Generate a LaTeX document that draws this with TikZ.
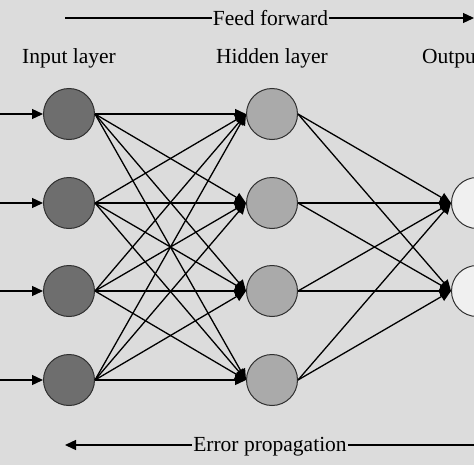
\documentclass[tikz,border=0pt]{standalone}
\usepackage{fontspec}
\setmainfont{Liberation Serif}
\usetikzlibrary{arrows.meta}
\definecolor{bg}{HTML}{DCDCDC}
\definecolor{inpfill}{HTML}{6E6E6E}
\definecolor{hidfill}{HTML}{AAAAAA}
\definecolor{outfill}{HTML}{F0F0F0}
\definecolor{rim}{HTML}{303030}
\begin{document}
\begin{tikzpicture}[x=1pt,y=-1pt,
  neuron/.style={circle, draw=rim, line width=1pt, minimum size=51pt, inner sep=0pt},
  inp/.style={neuron, fill=inpfill},
  hid/.style={neuron, fill=hidfill},
  outn/.style={neuron, fill=outfill},
  conn/.style={line width=1.3pt, black, -{Triangle[length=11pt,width=10pt]}},
  lbl/.style={font=\fontsize{21.5}{24}\selectfont, inner sep=0pt, anchor=base},
  dirlbl/.style={font=\fontsize{21.5}{24}\selectfont, fill=bg, inner xsep=1pt, inner ysep=0pt, anchor=base}
]
\clip (0,0) rectangle (474,474);
\fill[white] (0,0) rectangle (474,474);
\fill[bg] (0,0) rectangle (474,465);

% labels
\node[lbl] (linput) at (69,63) {Input layer};
\node[lbl] (lhidden) at (272,63) {Hidden layer};
\node[lbl, anchor=base west] (loutput) at (422,63) {Output layer};

% nodes
\foreach \i/\y in {1/114,2/203,3/291,4/380}{
  \node[inp] (i\i) at (69,\y) {};
  \node[hid] (h\i) at (272,\y) {};
  \coordinate (s\i) at (0,\y);
}
\node[outn] (o1) at (477,203) {};
\node[outn] (o2) at (477,291) {};

% input arrows
\foreach \i in {1,...,4}{
  \draw[conn] (s\i) -- (i\i.west);
}
% input -> hidden
\foreach \i in {1,...,4}{
  \foreach \j in {1,...,4}{
    \draw[conn] (i\i.east) -- (h\j.west);
  }
}
% hidden -> output
\foreach \j in {1,...,4}{
  \foreach \k in {1,2}{
    \draw[conn] (h\j.east) -- (o\k.west);
  }
}

% feed forward
\coordinate (ffa) at (65,18);
\coordinate (ffb) at (474,18);
\draw[conn] (ffa) -- (ffb);
\node[dirlbl] (ff) at (270.5,25.5) {Feed forward};

% error propagation
\coordinate (epa) at (474,445);
\coordinate (epb) at (65,445);
\draw[conn] (epa) -- (epb);
\node[dirlbl] (ep) at (270,451.5) {Error propagation};
\end{tikzpicture}
\end{document}
